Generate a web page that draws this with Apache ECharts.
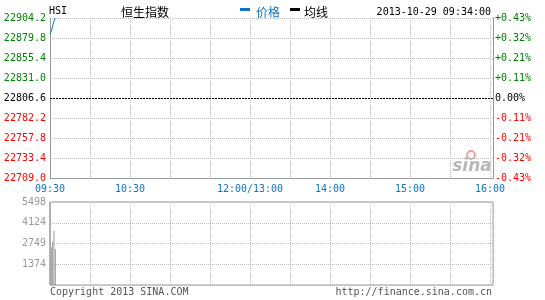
<!DOCTYPE html>
<html><head><meta charset="utf-8">
<script src="https://cdn.jsdelivr.net/npm/echarts@6/dist/echarts.min.js"></script>
<style>html,body{margin:0;padding:0;background:#fff}#c{width:545px;height:300px}</style>
</head><body><div id="c"></div>
<script>
// ---- data ----
const minutes = [0, 1, 2, 3, 4];                 // minutes after 09:30
const priceValues = [22884.7, 22888.3, 22894.5, 22900.5, 22904.2];
const volumeValues = [5498, 2500, 2870, 3600, 2380];
const prevClose = 22806.6;
const priceMin = 22709.0;
const priceMax = 22904.2;
const priceStep = 24.4;
const pctLabels = ['-0.43%', '-0.32%', '-0.21%', '-0.11%', '0.00%', '+0.11%', '+0.21%', '+0.32%', '+0.43%'];
const volumeMax = 5498;
const volumeLabels = ['', '1374', '2749', '4124', '5498'];
const timeTickMinutes = [0, 60, 150, 210, 270, 330];
const timeTickLabels = ['09:30', '10:30', '12:00/13:00', '14:00', '15:00', '16:00'];
const titleCode = 'HSI';
const titleName = '恒生指数';
const legendPrice = '价格';
const legendAvg = '均线';
const stampText = '2013-10-29 09:34:00';
const copyText = 'Copyright 2013 SINA.COM';
const urlText = 'http://finance.sina.com.cn';

// ---- chart ----
const MONO = 'DejaVu Sans Mono';
const CJK = 'Noto Sans CJK SC';
const BLUE = '#0a74c9';
const GREEN = '#008000';
const RED = '#ff0000';
const AXIS = '#999999';
const GRIDC = '#bbbbbb';
const xMax = 330 * 443 / 440;

function timeFmt(v) {
  const i = timeTickMinutes.findIndex(m => Math.abs(m - v) < 0.01);
  return i >= 0 ? timeTickLabels[i] : '';
}
function priceColor(v) {
  const d = Number(v) - prevClose;
  if (Math.abs(d) < 0.05) return '#000';
  return d > 0 ? GREEN : RED;
}

const chart = echarts.init(document.getElementById('c'), null, {renderer: 'canvas'});
chart.setOption({
  animation: false,
  backgroundColor: '#fff',
  grid: [
    {left: 50, top: 18, width: 443, height: 160, show: false},
    {left: 50, top: 202, width: 443, height: 83, show: true, borderColor: AXIS, borderWidth: 1, backgroundColor: 'transparent'}
  ],
  xAxis: [
    {type: 'value', gridIndex: 0, min: 0, max: xMax, interval: 30,
     axisLine: {show: true, onZero: false, lineStyle: {color: AXIS, width: 1}},
     axisTick: {show: false},
     splitLine: {show: true, lineStyle: {color: GRIDC, type: [1, 1]}},
     axisLabel: {show: true, formatter: timeFmt, color: BLUE, fontFamily: MONO, fontSize: 10, margin: 6,
                 showMaxLabel: true, showMinLabel: true, hideOverlap: false}},
    {type: 'value', gridIndex: 1, min: 0, max: xMax, interval: 30,
     axisLine: {show: false}, axisTick: {show: false}, axisLabel: {show: false},
     splitLine: {show: true, lineStyle: {color: GRIDC, type: [1, 1]}}}
  ],
  yAxis: [
    {type: 'value', gridIndex: 0, min: priceMin, max: priceMax, interval: priceStep, position: 'left',
     axisLine: {show: true, lineStyle: {color: AXIS, width: 1}},
     axisTick: {show: false},
     splitLine: {show: true, lineStyle: {color: GRIDC, type: [1, 1]}},
     axisLabel: {formatter: v => Number(v).toFixed(1), color: priceColor, fontFamily: MONO, fontSize: 10, margin: 4}},
    {type: 'value', gridIndex: 0, min: priceMin, max: priceMax, interval: priceStep, position: 'right',
     axisLine: {show: true, lineStyle: {color: AXIS, width: 1}},
     axisTick: {show: false}, splitLine: {show: false},
     axisLabel: {formatter: (v, i) => pctLabels[i], color: priceColor, fontFamily: MONO, fontSize: 10, margin: 2}},
    {type: 'value', gridIndex: 1, min: 0, max: volumeMax, interval: volumeMax / 4,
     axisLine: {show: false}, axisTick: {show: false},
     splitLine: {show: true, lineStyle: {color: GRIDC, type: [1, 1]}},
     axisLabel: {formatter: (v, i) => volumeLabels[i] || '', color: AXIS, fontFamily: MONO, fontSize: 10, margin: 4}}
  ],
  series: [
    {type: 'line', xAxisIndex: 0, yAxisIndex: 0, showSymbol: false, z: 5,
     data: minutes.map((m, i) => [m, priceValues[i]]),
     lineStyle: {color: BLUE, width: 1}, itemStyle: {color: BLUE},
     markLine: {silent: true, symbol: 'none', label: {show: false},
                lineStyle: {color: '#000', type: [2, 1], width: 1},
                data: [{yAxis: prevClose}]}},
    {type: 'bar', xAxisIndex: 1, yAxisIndex: 2, barWidth: 1,
     data: minutes.map((m, i) => [m, volumeValues[i]]),
     itemStyle: {color: AXIS}}
  ],
  graphic: [
    {type: 'text', style: {x: 49, y: 11, text: titleCode, font: '10px ' + MONO, fill: '#000', verticalAlign: 'middle'}},
    {type: 'text', style: {x: 121, y: 12, text: titleName, font: '12px "' + CJK + '"', fill: '#000', verticalAlign: 'middle'}},
    {type: 'rect', shape: {x: 240, y: 8, width: 10, height: 3}, style: {fill: BLUE}},
    {type: 'text', style: {x: 256, y: 12, text: legendPrice, font: '12px "' + CJK + '"', fill: BLUE, verticalAlign: 'middle'}},
    {type: 'rect', shape: {x: 290, y: 8, width: 10, height: 3}, style: {fill: '#000'}},
    {type: 'text', style: {x: 304, y: 12, text: legendAvg, font: '12px "' + CJK + '"', fill: '#000', verticalAlign: 'middle'}},
    {type: 'text', style: {x: 491, y: 12, text: stampText, font: '10px ' + MONO, fill: '#000', align: 'right', verticalAlign: 'middle'}},
    {type: 'text', style: {x: 50, y: 292, text: copyText, font: '10px ' + MONO, fill: '#555', verticalAlign: 'middle'}},
    {type: 'text', style: {x: 492, y: 292, text: urlText, font: '10px ' + MONO, fill: '#555', align: 'right', verticalAlign: 'middle'}},
    {type: 'circle', shape: {cx: 471, cy: 155, r: 4}, style: {fill: 'none', stroke: '#f3a0a0', lineWidth: 2}},
    {type: 'text', style: {x: 472, y: 167, text: 'sina', font: 'italic bold 17px "DejaVu Sans"', fill: '#b8b8b8', align: 'center', verticalAlign: 'middle'}}
  ]
});
</script>
</body></html>
